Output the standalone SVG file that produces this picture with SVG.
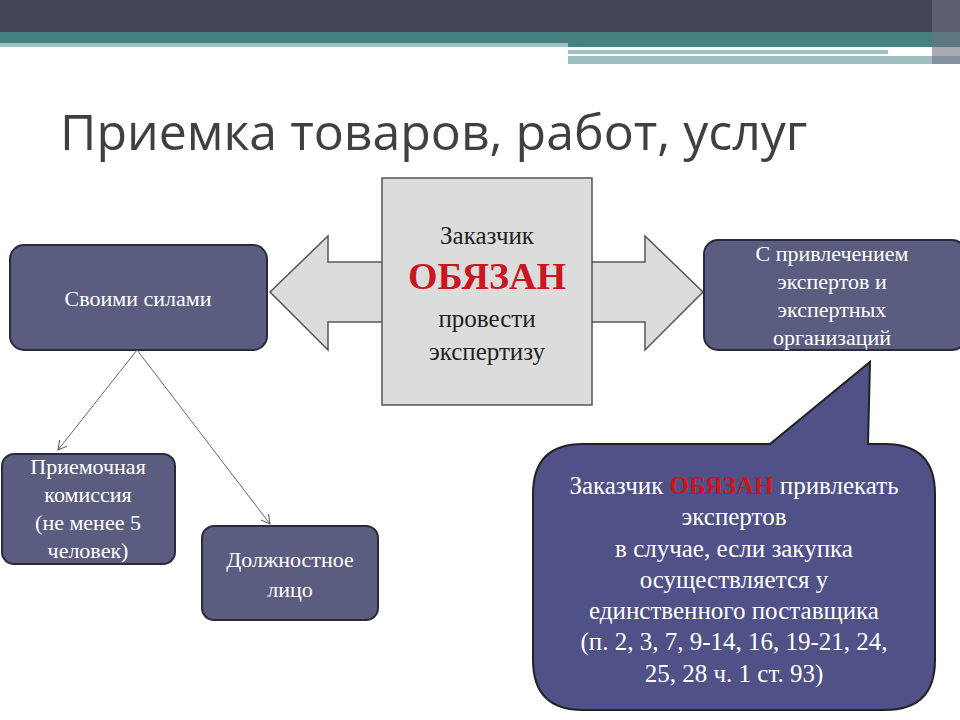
<svg xmlns="http://www.w3.org/2000/svg" width="960" height="720" viewBox="0 0 960 720">
<style>
.box{fill:#5b5d80;stroke:#2a2a3c;stroke-width:2}
.t{font-family:"Liberation Serif",serif;font-size:22px;fill:#fff;text-anchor:middle}
.d{font-family:"Liberation Serif",serif;font-size:25px;fill:#222;text-anchor:middle}
</style>
<defs><marker id="a" markerWidth="10" markerHeight="10" refX="9" refY="5" orient="auto"><path d="M0,0 L9,5 L0,10" fill="none" stroke="#555"/></marker></defs>
<rect width="960" height="720" fill="#fff"/>
<rect x="0" y="0" width="960" height="32" fill="#414455"/>
<rect x="0" y="32" width="960" height="11" fill="#45827f"/>
<rect x="0" y="43" width="568" height="4" fill="#a0bfc0"/>
<rect x="568" y="43" width="392" height="4" fill="#45827f"/>
<rect x="568" y="50" width="320" height="4" fill="#a0bfc0"/>
<rect x="568" y="56" width="392" height="8" fill="#a0bfc0"/>
<rect x="932" y="0" width="28" height="64" fill="#6e7180" opacity="0.6"/>
<text x="60" y="150" font-family="Open Sans,sans-serif" font-size="50" fill="#404040">Приемка товаров, работ, услуг</text>
<g id="arrow"><path d="M270,292 L328,236 L328,262 L645,262 L645,236 L703,292 L645,350 L645,322 L328,322 L328,350 Z" fill="#dcdcdc" stroke="#555" stroke-width="1.5"/></g>
<g id="center"><rect x="382" y="178" width="210" height="227" fill="#dcdcdc" stroke="#555" stroke-width="1.5"/>
<text class="d" x="487" y="244">Заказчик</text>
<text x="487" y="289" font-family="Liberation Serif,serif" font-size="38" font-weight="bold" fill="#c8171e" text-anchor="middle">ОБЯЗАН</text>
<text class="d" x="487" y="327">провести</text>
<text class="d" x="487" y="360">экспертизу</text></g>
<g id="own"><rect class="box" x="10" y="245" width="257" height="105" rx="14"/><text class="t" x="138" y="306">Своими силами</text></g>
<g id="experts"><rect class="box" x="704" y="240" width="262" height="110" rx="14"/>
<text class="t" x="832" y="261">С привлечением</text><text class="t" x="832" y="289">экспертов и</text><text class="t" x="832" y="317">экспертных</text><text class="t" x="832" y="345">организаций</text></g>
<g id="commission"><rect class="box" x="2" y="454" width="173" height="110" rx="12"/>
<text class="t" x="88" y="474">Приемочная</text><text class="t" x="88" y="502">комиссия</text><text class="t" x="88" y="530">(не менее 5</text><text class="t" x="88" y="558">человек)</text></g>
<g id="official"><rect class="box" x="202" y="526" width="176" height="94" rx="12"/>
<text class="t" x="290" y="567">Должностное</text><text class="t" x="290" y="597">лицо</text></g>
<g id="callout"><path d="M583,444 L770,444 L870,362 L868,444 L885,444 Q935,444 935,494 L935,660 Q935,710 885,710 L583,710 Q533,710 533,660 L533,494 Q533,444 583,444 Z" fill="#4f5187" stroke="#222" stroke-width="2"/>
<g class="t" style="font-size:25px">
<text x="734" y="494">Заказчик <tspan fill="#d0141a" font-weight="bold">ОБЯЗАН</tspan> привлекать</text>
<text x="734" y="525">экспертов</text><text x="734" y="557">в случае, если закупка</text><text x="734" y="588">осуществляется у</text><text x="734" y="619">единственного поставщика</text><text x="734" y="650">(п. 2, 3, 7, 9-14, 16, 19-21, 24,</text><text x="734" y="682">25, 28 ч. 1 ст. 93)</text></g></g>
<g id="connectors" stroke="#666" stroke-width="1" fill="none"><line x1="137" y1="350" x2="58" y2="450" marker-end="url(#a)"/><line x1="137" y1="350" x2="270" y2="524" marker-end="url(#a)"/></g>
</svg>
